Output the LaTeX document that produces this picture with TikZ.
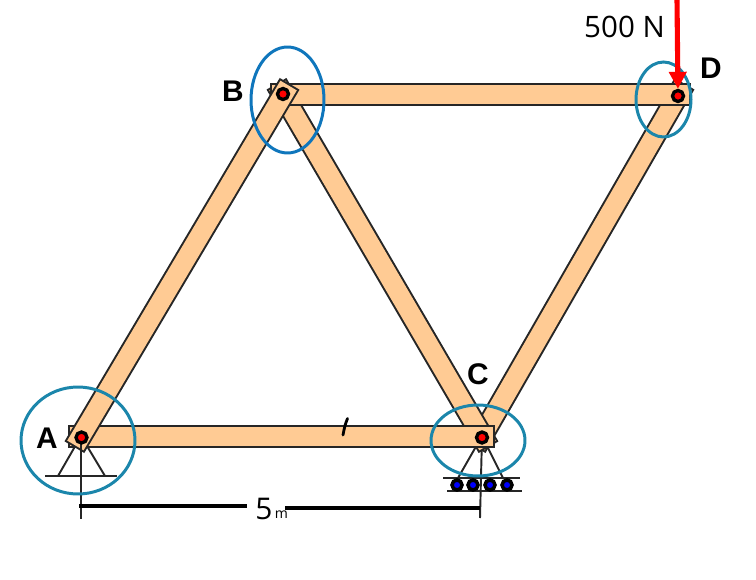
\documentclass[tikz,border=0pt]{standalone}
\usepackage{fontspec}
\setmainfont{Open Sans}
\setsansfont{Liberation Sans}
\definecolor{barfill}{HTML}{FFCB94}
\definecolor{ringteal}{HTML}{1B86AB}
\definecolor{ringblue}{HTML}{0F76BC}
\tikzset{
    pin/.style={draw=black, circle, fill=red, line width=1.9pt, minimum size=0.22cm, inner sep=0pt},
    roller/.style={draw=black, circle, fill=blue, line width=2pt, minimum size=0.2cm, inner sep=0pt},
    baredge/.style={line width=0.46cm, draw=black!85, shorten <=-0.26cm, shorten >=-0.26cm},
    barbody/.style={line width=0.38cm, draw=barfill, shorten <=-0.22cm, shorten >=-0.22cm},
    ring/.style={draw, ellipse, line width=1.7pt, fill=none, inner sep=0pt},
    support/.style={black!85, line width=1.1pt},
    dimbar/.style={black, line width=2.8pt},
    jointlabel/.style={font=\sffamily\bfseries\fontsize{17}{17}\selectfont}
}
\usetikzlibrary{shapes.geometric, arrows.meta}
\newcommand{\member}[2]{%
    \draw[baredge] (#1) -- (#2);
    \draw[barbody] (#1) -- (#2);
}
\begin{document}
\begin{tikzpicture}[x=0.02cm, y=-0.02cm]
    \useasboundingbox (0,0) rectangle (756,580);

    % Joints
    \coordinate (jointA) at (81,436);
    \coordinate (jointB) at (283,95);
    \coordinate (jointC) at (482,436);
    \coordinate (jointD) at (678,95);

    % Supports
    \coordinate (footAl) at (58,476);
    \coordinate (footAr) at (105,476);
    \coordinate (footCl) at (458,478);
    \coordinate (footCr) at (503,478);
    \coordinate (dimA) at (81,519);
    \coordinate (dimC) at (480,518);
    \draw[support] (jointA) -- (footAl);
    \draw[support] (jointA) -- (footAr);
    \draw[support] (45,476) -- (117,476);
    \draw[support] (jointC) -- (footCl);
    \draw[support] (jointC) -- (footCr);
    \draw[support] (jointC) -- (dimC);
    \draw[support] (443,478) -- (520,478);
    \draw[support] (447,491) -- (522,491);
    \node[roller] (rollA) at (457,485) {};
    \node[roller] (rollB) at (473,485) {};
    \node[roller] (rollC) at (490,485) {};
    \node[roller] (rollD) at (507,485) {};

    % Members
    \member{jointC}{jointD}
    \member{jointB}{jointC}
    \member{jointB}{jointD}
    \member{jointA}{jointC}
    \member{jointA}{jointB}
    \draw[support] (jointA) -- (dimA);

    % Pins
    \node[pin] (pinA) at (81.5,437.5) {};
    \node[pin] (pinB) at (283,94) {};
    \node[pin] (pinC) at (482,437.5) {};
    \node[pin] (pinD) at (678,96) {};

    % Rings
    \node[ring, draw=ringteal, minimum width=2.28cm, minimum height=2.14cm] (ringA) at (78,440.5) {};
    \node[ring, draw=ringblue, minimum width=1.46cm, minimum height=2.12cm] (ringB) at (287.5,100) {};
    \node[ring, draw=ringteal, minimum width=1.88cm, minimum height=1.42cm] (ringC) at (478,440.5) {};
    \node[ring, draw=ringteal, minimum width=1.1cm, minimum height=1.5cm] (ringD) at (663.5,99.5) {};

    % Labels
    \node[jointlabel] (labA) at (47,438) {A};
    \node[jointlabel] (labB) at (233,91) {B};
    \node[jointlabel] (labC) at (478,374) {C};
    \node[jointlabel] (labD) at (711,68) {D};
    \node[font=\fontsize{16.8}{16.8}\selectfont] (load) at (624.5,27) {500 N};
    \node[font=\fontsize{17}{17}\selectfont, inner sep=0pt] (five) at (264,509) {5};
    \node[font=\fontsize{8}{8}\selectfont, inner sep=0pt] (unit) at (281.5,515) {m};

    % Arrows
    \coordinate (loadTop) at (677,0);
    \draw[-{Triangle[length=0.34cm, width=0.34cm]}, red, line width=2.9pt] (loadTop) -- (pinD);
    \draw[dimbar] (79,506) -- (247,506);
    \draw[dimbar] (285,508) -- (480,508);
    \draw[black, line width=1.6pt, line cap=round] (347.5,418.5) .. controls (345,425) .. (343,435);
\end{tikzpicture}
\end{document}
